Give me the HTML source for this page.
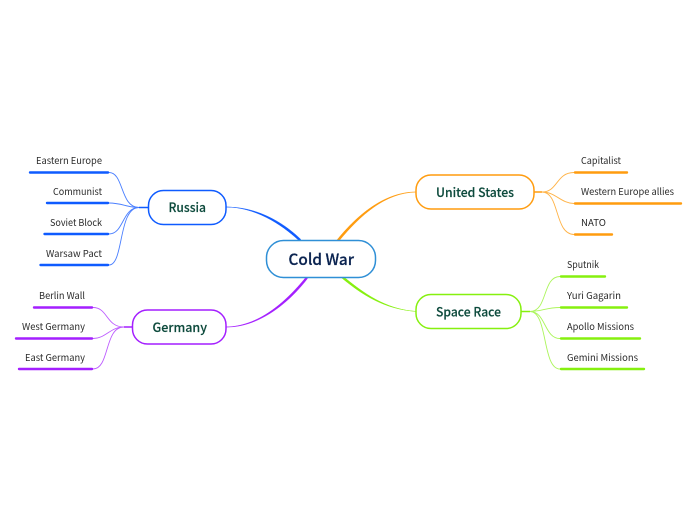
<!DOCTYPE html>
<html><head><meta charset="utf-8"><style>
html,body{margin:0;padding:0;background:#fff;width:696px;height:520px;overflow:hidden}
svg{display:block}
text{font-family:"Noto Sans CJK SC","Liberation Sans",sans-serif}
.l{font-size:9.5px;fill:#2a2a2a}
.t{font-size:12.5px;font-weight:500;fill:#0d4a3c;stroke:#0d4a3c;stroke-width:.15px}
.c{fill:none;stroke-width:.9}
</style></head><body>
<svg width="696" height="520" viewBox="0 0 696 520" xmlns="http://www.w3.org/2000/svg">
<rect width="696" height="520" fill="#fff"/>

<!-- main connectors -->
<path d="M226 206.900C255 207.500 280 223 299.200 240.800L300.800 239.400C282 221 255 206.500 226 207.100Z" fill="#0f5bff" stroke="#0f5bff" stroke-width=".4"/>
<path d="M226 326.900C258 326.500 285 303 305.800 277.400L307.600 278.400C288 304 258 327.500 226 327.100Z" fill="#a41fff" stroke="#a41fff" stroke-width=".4"/>
<path d="M416 191.900C385 192 358 214 336.800 240.200L338.600 241.400C360 215.500 385 192.700 416 192.100Z" fill="#ff9c0f" stroke="#ff9c0f" stroke-width=".4"/>
<path d="M416 311.300C385 309.500 362 295 340.600 277L342.400 275.800C364 293.500 385 309 416 311.500Z" fill="#86f00f" stroke="#86f00f" stroke-width=".4"/>

<!-- Russia leaves -->
<g class="c" stroke="#4a7fff">
<path d="M109 172.500C124 172.500 120 207.500 139 207.500"/>
<path d="M109 203C122 203 127 207.500 139 207.500"/>
<path d="M109 234C124 234 122 207.500 139 207.500"/>
<path d="M109 265C124 265 118 207.500 139 207.500"/>
</g>
<path d="M139 207.500H148" stroke="#0f5bff" stroke-width="1.500"/>
<g stroke="#0f5bff" stroke-width="2.400" stroke-linecap="round">
<path d="M30 172.500H108M47 203H108M44.500 234H108M40.500 265H108"/>
</g>

<!-- Germany leaves -->
<g class="c" stroke="#bd5cff">
<path d="M93 307.500C108 307.500 106 327 124 327"/>
<path d="M93 338.500C106 338.500 110 327 124 327"/>
<path d="M93 369C110 369 104 327 124 327"/>
</g>
<path d="M124 327H132" stroke="#a41fff" stroke-width="1.500"/>
<g stroke="#a41fff" stroke-width="2.400" stroke-linecap="round">
<path d="M34 307.500H92M16 338.500H92M19 369H92"/>
</g>

<!-- US leaves -->
<g class="c" stroke="#ffb347">
<path d="M542 192C558 192 556 172.500 574 172.500"/>
<path d="M542 192C556 192 560 203 574 203.500"/>
<path d="M542 192C560 192 554 234 574 234.500"/>
</g>
<path d="M534 192H542" stroke="#ff9c0f" stroke-width="1.500"/>
<g stroke="#ff9c0f" stroke-width="2.400" stroke-linecap="round">
<path d="M575 172.500H627M575 203.500H681M575 234.500H612"/>
</g>

<!-- Space leaves -->
<g class="c" stroke="#acf55c">
<path d="M530 311.500C548 311.500 542 276.500 560 276.500"/>
<path d="M530 311.500C542 311.500 546 307.500 560 307.500"/>
<path d="M530 311.500C546 311.500 544 338.500 560 338.500"/>
<path d="M530 311.500C548 311.500 542 369 560 369"/>
</g>
<path d="M521 311.500H530" stroke="#86f00f" stroke-width="1.500"/>
<g stroke="#86f00f" stroke-width="2.400" stroke-linecap="round">
<path d="M561 276.500H605M561 307.500H627M561 338.500H640M561 369H644"/>
</g>

<!-- nodes -->
<rect x="148.500" y="190.500" width="77.500" height="34" rx="15" fill="#fff" stroke="#0f5bff" stroke-width="1.500"/>
<rect x="132.500" y="310" width="93.500" height="34" rx="15" fill="#fff" stroke="#a41fff" stroke-width="1.500"/>
<rect x="416" y="175" width="118" height="34" rx="15" fill="#fff" stroke="#ff9c0f" stroke-width="1.500"/>
<rect x="416" y="294.500" width="105" height="34" rx="15" fill="#fff" stroke="#86f00f" stroke-width="1.500"/>
<rect x="266.500" y="240.500" width="109" height="37" rx="17" fill="#fff" stroke="#2f8fd6" stroke-width="1.500"/>

<!-- titles -->
<text class="t" x="168.500" y="212" textLength="37.500" lengthAdjust="spacingAndGlyphs">Russia</text>
<text class="t" x="152.500" y="332" textLength="54.500" lengthAdjust="spacingAndGlyphs">Germany</text>
<text class="t" x="436" y="197" textLength="78" lengthAdjust="spacingAndGlyphs">United States</text>
<text class="t" x="436" y="316.500" textLength="65" lengthAdjust="spacingAndGlyphs">Space Race</text>
<text x="288.500" y="265" textLength="65.500" lengthAdjust="spacingAndGlyphs" font-size="15.500" font-weight="500" fill="#0a2350" stroke="#0a2350" stroke-width=".2">Cold War</text>

<!-- leaf labels -->
<text class="l" x="36" y="164" textLength="66" lengthAdjust="spacingAndGlyphs">Eastern Europe</text>
<text class="l" x="53" y="195" textLength="49" lengthAdjust="spacingAndGlyphs">Communist</text>
<text class="l" x="50" y="226" textLength="52" lengthAdjust="spacingAndGlyphs">Soviet Block</text>
<text class="l" x="46" y="257" textLength="56" lengthAdjust="spacingAndGlyphs">Warsaw Pact</text>
<text class="l" x="39" y="299" textLength="46" lengthAdjust="spacingAndGlyphs">Berlin Wall</text>
<text class="l" x="22" y="330" textLength="63" lengthAdjust="spacingAndGlyphs">West Germany</text>
<text class="l" x="25" y="361" textLength="60" lengthAdjust="spacingAndGlyphs">East Germany</text>
<text class="l" x="581" y="164" textLength="40" lengthAdjust="spacingAndGlyphs">Capitalist</text>
<text class="l" x="581" y="195" textLength="93" lengthAdjust="spacingAndGlyphs">Western Europe allies</text>
<text class="l" x="581" y="226" textLength="25" lengthAdjust="spacingAndGlyphs">NATO</text>
<text class="l" x="567" y="268" textLength="32" lengthAdjust="spacingAndGlyphs">Sputnik</text>
<text class="l" x="567" y="299" textLength="54" lengthAdjust="spacingAndGlyphs">Yuri Gagarin</text>
<text class="l" x="567" y="330" textLength="67" lengthAdjust="spacingAndGlyphs">Apollo Missions</text>
<text class="l" x="567" y="361" textLength="71" lengthAdjust="spacingAndGlyphs">Gemini Missions</text>
</svg>
</body></html>
